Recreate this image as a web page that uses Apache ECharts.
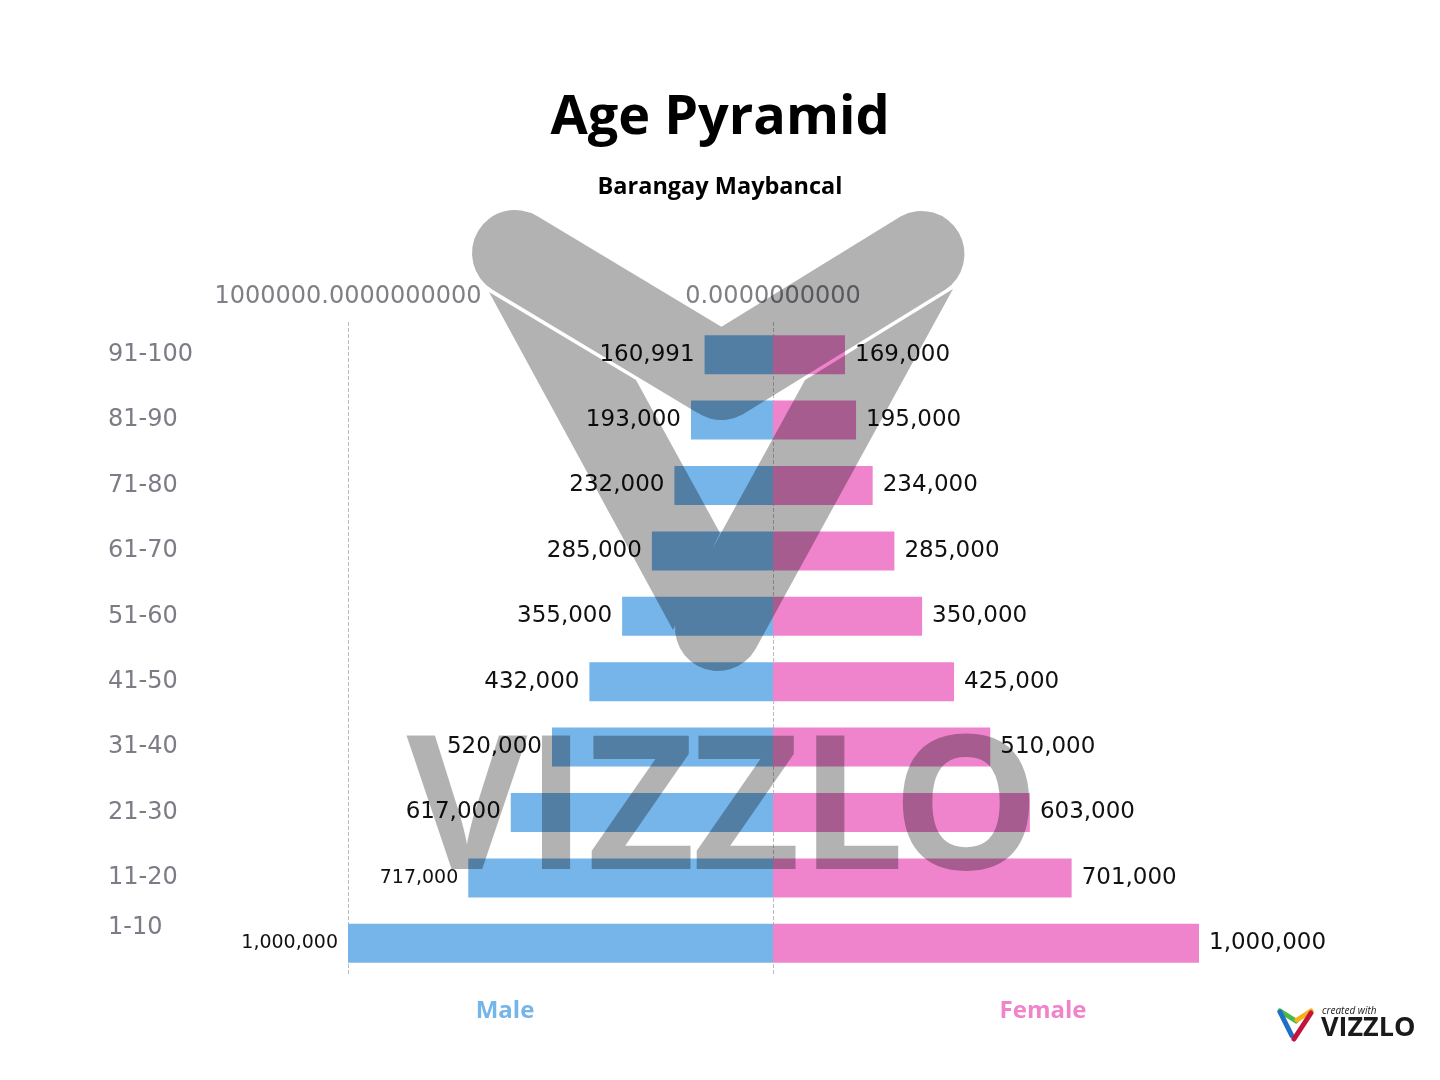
<!DOCTYPE html>
<html>
<head>
    <meta charset="utf-8">
    <title>Age Pyramid</title>
    <script src="https://cdn.jsdelivr.net/npm/echarts@6/dist/echarts.min.js"></script>
</head>
<body style="margin:0;background:#fff;">
    <div id="main" style="width:1440px;height:1080px;"></div>
    <script type="text/javascript">
        // data, top row first
        var ageGroups = ['91-100', '81-90', '71-80', '61-70', '51-60', '41-50', '31-40', '21-30', '11-20', '1-10'];
        var maleValues = [160991, 193000, 232000, 285000, 355000, 432000, 520000, 617000, 717000, 1000000];
        var femaleValues = [169000, 195000, 234000, 285000, 350000, 425000, 510000, 603000, 701000, 1000000];
        var axisMax = 1000000;

        var maleColor = '#75b5e9';
        var femaleColor = '#ef84cd';
        var fontFam = '"Open Sans", "Noto Sans", sans-serif';
        var labelFam = '"DejaVu Sans", "Noto Sans", sans-serif';

        function fmt(v) {
            return Math.round(v).toLocaleString('en-US');
        }

        // male labels for the two widest bars are drawn smaller
        var maleData = maleValues.map(function (v, i) {
            var small = (i >= ageGroups.length - 2);
            return {value: v, label: {fontSize: small ? 19 : 23}};
        });

        // watermark V (one compound path, all sub paths clockwise so nothing doubles)
        var vPath =
            'M537.1,216.1 L740.1,338.1 A43,43 0 0 1 695.9,411.9 L492.9,289.9 A43,43 0 0 1 537.1,216.1 Z ' +
            'M697.5,341.4 L900.5,216.4 A43,43 0 0 1 945.5,289.6 L742.5,414.6 A43,43 0 0 1 697.5,341.4 Z ' +
            'M953,289 L755.7,648.7 A43,43 0 0 1 680.3,607.3 L805,380 Z ' +
            'M489,292 L636,380 L720,533 L673,630 Z';
        echarts.graphic.registerShape('vmark', echarts.graphic.extendPath(vPath, {}));

        var myChart = echarts.init(document.getElementById('main'));

        var wmFill = 'rgba(0,0,0,0.3)';
        var wmLetters = [
            {t: 'V', x: 467}, {t: 'I', x: 556}, {t: 'Z', x: 641},
            {t: 'Z', x: 746}, {t: 'L', x: 852}, {t: 'O', x: 966}
        ];

        var graphics = [
            {type: 'vmark', z: 100, silent: true, style: {fill: wmFill}},
            {
                type: 'text', x: 505, y: 1011, z: 10,
                style: {text: 'Male', fill: maleColor, font: 'bold 24px ' + fontFam, align: 'center', verticalAlign: 'middle'}
            },
            {
                type: 'text', x: 1043, y: 1011, z: 10,
                style: {text: 'Female', fill: femaleColor, font: 'bold 24px ' + fontFam, align: 'center', verticalAlign: 'middle'}
            },
            // small vizzlo badge
            {type: 'line', shape: {x1: 1280, y1: 1011, x2: 1296, y2: 1021}, style: {stroke: '#4cb848', lineWidth: 5, lineCap: 'round'}},
            {type: 'line', shape: {x1: 1311, y1: 1011, x2: 1297, y2: 1020}, style: {stroke: '#f6b21b', lineWidth: 5, lineCap: 'round'}},
            {type: 'line', shape: {x1: 1280, y1: 1012, x2: 1292, y2: 1036}, style: {stroke: '#1f6fc5', lineWidth: 5, lineCap: 'round'}},
            {type: 'line', shape: {x1: 1311, y1: 1013, x2: 1294, y2: 1039}, style: {stroke: '#c4143c', lineWidth: 5, lineCap: 'round'}},
            {
                type: 'text', x: 1322, y: 1011,
                style: {text: 'created with', fill: '#222', font: 'italic 10px ' + fontFam, verticalAlign: 'middle'}
            },
            {
                type: 'text', x: 1321, y: 1028,
                style: {text: 'VIZZLO', fill: '#1a1a1a', font: 'bold 27px ' + fontFam, verticalAlign: 'middle'}
            }
        ];
        wmLetters.forEach(function (l) {
            graphics.push({
                type: 'text', x: l.x, y: 816, z: 100, silent: true,
                style: {text: l.t, fill: wmFill, font: 'bold 186px ' + fontFam, align: 'center', verticalAlign: 'middle'}
            });
        });

        myChart.setOption({
            animation: false,
            title: {
                text: 'Age Pyramid',
                subtext: 'Barangay Maybancal',
                left: 'center',
                top: 87,
                itemGap: 29,
                textStyle: {fontFamily: fontFam, fontSize: 54, fontWeight: 'bold', color: '#000'},
                subtextStyle: {fontFamily: fontFam, fontSize: 23.5, fontWeight: 'bold', color: '#000'}
            },
            grid: [
                {left: 348, right: 667, top: 322, bottom: 104},
                {left: 773, right: 241, top: 322, bottom: 104}
            ],
            xAxis: [
                {
                    type: 'value', gridIndex: 0, inverse: true, position: 'top',
                    min: 0, max: axisMax, interval: axisMax,
                    axisLine: {show: false}, axisTick: {show: false},
                    axisLabel: {
                        fontFamily: labelFam, fontSize: 24, color: '#7f7f86', margin: 13,
                        formatter: function (v) { return v.toFixed(10); }
                    },
                    splitLine: {show: true, lineStyle: {color: '#bdbdbd', type: 'dashed', width: 1}}
                },
                {
                    type: 'value', gridIndex: 1, min: 0, max: axisMax,
                    axisLine: {show: false}, axisTick: {show: false},
                    axisLabel: {show: false}, splitLine: {show: false}
                }
            ],
            yAxis: [
                {
                    type: 'category', gridIndex: 0, inverse: true, data: ageGroups,
                    axisLine: {show: false}, axisTick: {show: false},
                    axisLabel: {
                        align: 'left', margin: 240,
                        fontFamily: labelFam, fontSize: 24, color: '#7c7c86',
                        formatter: function (v) {
                            return v === '1-10' ? '{low|' + v + '}' : v;
                        },
                        rich: {
                            low: {fontFamily: labelFam, fontSize: 24, color: '#7c7c86', padding: [0, 0, 32, 0]}
                        }
                    }
                },
                {
                    type: 'category', gridIndex: 1, inverse: true, data: ageGroups,
                    axisLine: {show: false}, axisTick: {show: false}, axisLabel: {show: false}
                }
            ],
            series: [
                {
                    name: 'Male', type: 'bar', xAxisIndex: 0, yAxisIndex: 0,
                    barWidth: 39, data: maleData,
                    itemStyle: {color: maleColor},
                    label: {
                        show: true, position: 'left', distance: 10, color: '#111',
                        fontFamily: labelFam, fontSize: 23,
                        formatter: function (p) { return fmt(p.value); }
                    }
                },
                {
                    name: 'Female', type: 'bar', xAxisIndex: 1, yAxisIndex: 1,
                    barWidth: 39, data: femaleValues,
                    itemStyle: {color: femaleColor},
                    label: {
                        show: true, position: 'right', distance: 10, color: '#111',
                        fontFamily: labelFam, fontSize: 23,
                        formatter: function (p) { return fmt(p.value); }
                    }
                }
            ],
            graphic: graphics
        });
    </script>
</body>
</html>
